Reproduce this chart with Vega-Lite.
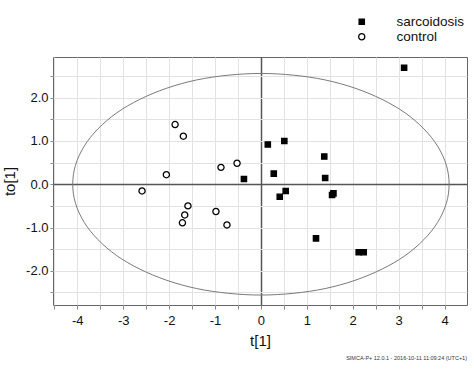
{
  "$schema": "https://vega.github.io/schema/vega-lite/v6.json",
  "width": 414,
  "height": 248,
  "autosize": {"type": "none"},
  "padding": {"left": 53, "top": 57, "right": 7, "bottom": 76},
  "background": "white",
  "title": {"text": "SIMCA-P+ 12.0.1 - 2016-10-11 11:09:24 (UTC+1)", "orient": "bottom", "anchor": "end", "fontSize": 5.5, "fontWeight": "normal", "color": "#333", "font": "Liberation Sans", "offset": 8},
  "datasets": {
    "pts": [
      {"x": 3.12, "y": 2.69, "group": "sarcoidosis"},
      {"x": 0.15, "y": 0.92, "group": "sarcoidosis"},
      {"x": 0.51, "y": 1.0, "group": "sarcoidosis"},
      {"x": 1.38, "y": 0.64, "group": "sarcoidosis"},
      {"x": 0.28, "y": 0.245, "group": "sarcoidosis"},
      {"x": -0.37, "y": 0.12, "group": "sarcoidosis"},
      {"x": 1.4, "y": 0.145, "group": "sarcoidosis"},
      {"x": 0.54, "y": -0.155, "group": "sarcoidosis"},
      {"x": 0.41, "y": -0.29, "group": "sarcoidosis"},
      {"x": 1.58, "y": -0.21, "group": "sarcoidosis"},
      {"x": 1.55, "y": -0.25, "group": "sarcoidosis"},
      {"x": 1.2, "y": -1.25, "group": "sarcoidosis"},
      {"x": 2.13, "y": -1.57, "group": "sarcoidosis"},
      {"x": 2.24, "y": -1.57, "group": "sarcoidosis"},
      {"x": -1.87, "y": 1.38, "group": "control"},
      {"x": -1.69, "y": 1.11, "group": "control"},
      {"x": -0.52, "y": 0.485, "group": "control"},
      {"x": -0.87, "y": 0.39, "group": "control"},
      {"x": -2.06, "y": 0.22, "group": "control"},
      {"x": -2.59, "y": -0.155, "group": "control"},
      {"x": -1.59, "y": -0.5, "group": "control"},
      {"x": -1.66, "y": -0.71, "group": "control"},
      {"x": -1.71, "y": -0.89, "group": "control"},
      {"x": -0.98, "y": -0.63, "group": "control"},
      {"x": -0.74, "y": -0.94, "group": "control"}
    ],
    "ell": [
      {"i": 0, "x": 4.1, "y": 0.0}, {"i": 1, "x": 4.04, "y": 0.44}, {"i": 2, "x": 3.85, "y": 0.88},
      {"i": 3, "x": 3.55, "y": 1.28}, {"i": 4, "x": 3.14, "y": 1.65}, {"i": 5, "x": 2.64, "y": 1.96},
      {"i": 6, "x": 2.05, "y": 2.22}, {"i": 7, "x": 1.4, "y": 2.41}, {"i": 8, "x": 0.71, "y": 2.52},
      {"i": 9, "x": 0.0, "y": 2.56}, {"i": 10, "x": -0.71, "y": 2.52}, {"i": 11, "x": -1.4, "y": 2.41},
      {"i": 12, "x": -2.05, "y": 2.22}, {"i": 13, "x": -2.64, "y": 1.96}, {"i": 14, "x": -3.14, "y": 1.65},
      {"i": 15, "x": -3.55, "y": 1.28}, {"i": 16, "x": -3.85, "y": 0.88}, {"i": 17, "x": -4.04, "y": 0.44},
      {"i": 18, "x": -4.1, "y": 0.0}, {"i": 19, "x": -4.04, "y": -0.44}, {"i": 20, "x": -3.85, "y": -0.88},
      {"i": 21, "x": -3.55, "y": -1.28}, {"i": 22, "x": -3.14, "y": -1.65}, {"i": 23, "x": -2.64, "y": -1.96},
      {"i": 24, "x": -2.05, "y": -2.22}, {"i": 25, "x": -1.4, "y": -2.41}, {"i": 26, "x": -0.71, "y": -2.52},
      {"i": 27, "x": 0.0, "y": -2.56}, {"i": 28, "x": 0.71, "y": -2.52}, {"i": 29, "x": 1.4, "y": -2.41},
      {"i": 30, "x": 2.05, "y": -2.22}, {"i": 31, "x": 2.64, "y": -1.96}, {"i": 32, "x": 3.14, "y": -1.65},
      {"i": 33, "x": 3.55, "y": -1.28}, {"i": 34, "x": 3.85, "y": -0.88}, {"i": 35, "x": 4.04, "y": -0.44}
    ]
  },
  "encoding": {
    "x": {
      "field": "x", "type": "quantitative", "title": "t[1]",
      "scale": {"domain": [-4.53, 4.49], "nice": false, "zero": false},
      "axis": {
        "values": [-4.5, -4, -3.5, -3, -2.5, -2, -1.5, -1, -0.5, 0, 0.5, 1, 1.5, 2, 2.5, 3, 3.5, 4],
        "labelExpr": "datum.value % 1 === 0 ? replace(format(datum.value, 'd'), '\u2212', '-') : ''",
        "grid": true,
        "gridColor": {"condition": {"test": "datum.value === 0", "value": "#555"}, "value": "#e2e2e2"},
        "gridWidth": {"condition": {"test": "datum.value === 0", "value": 1.5}, "value": 1},
        "domain": false, "tickColor": "#888", "tickSize": 4,
        "labelFontSize": 13, "labelColor": "#111", "labelFont": "Liberation Sans", "labelPadding": 5,
        "titleFontSize": 15, "titleFontWeight": "normal", "titleColor": "#111", "titleFont": "Liberation Sans", "titlePadding": 6
      }
    },
    "y": {
      "field": "y", "type": "quantitative", "title": "to[1]",
      "scale": {"domain": [-2.79, 2.94], "nice": false, "zero": false},
      "axis": {
        "values": [-2.5, -2, -1.5, -1, -0.5, 0, 0.5, 1, 1.5, 2, 2.5],
        "labelExpr": "datum.value % 1 === 0 ? replace(format(datum.value, '.1f'), '\u2212', '-') : ''",
        "grid": true,
        "gridColor": {"condition": {"test": "datum.value === 0", "value": "#555"}, "value": "#e2e2e2"},
        "gridWidth": {"condition": {"test": "datum.value === 0", "value": 1.5}, "value": 1},
        "domain": false, "tickColor": "#888", "tickSize": 3,
        "labelFontSize": 13, "labelColor": "#111", "labelFont": "Liberation Sans", "labelPadding": 2,
        "titleFontSize": 15, "titleFontWeight": "normal", "titleColor": "#111", "titleFont": "Liberation Sans", "titlePadding": 8
      }
    }
  },
  "layer": [
    {
      "data": {"name": "ell"},
      "mark": {"type": "line", "color": "#7a7a7a", "strokeWidth": 1, "interpolate": "cardinal-closed"},
      "encoding": {"order": {"field": "i", "type": "quantitative"}}
    },
    {
      "data": {"name": "pts"},
      "mark": {"type": "point", "opacity": 1, "strokeWidth": 1.3, "filled": false},
      "encoding": {
        "shape": {"field": "group", "type": "nominal", "title": null,
          "scale": {"domain": ["sarcoidosis", "control"], "range": ["square", "circle"]},
          "legend": {"symbolStrokeColor": "black", "symbolStrokeWidth": 1.3}},
        "fill": {"field": "group", "type": "nominal", "title": null,
          "scale": {"domain": ["sarcoidosis", "control"], "range": ["black", "white"]}},
        "stroke": {"value": "black"},
        "size": {"field": "group", "type": "nominal", "title": null,
          "scale": {"domain": ["sarcoidosis", "control"], "range": [28, 38]}}
      }
    }
  ],
  "config": {
    "view": {"stroke": "#666", "strokeWidth": 1},
    "legend": {
      "orient": "none", "legendX": 302, "legendY": -42, "padding": 0,
      "labelFontSize": 13.5, "labelFont": "Liberation Sans", "labelColor": "#111", "labelOffset": 28,
      "rowPadding": 0
    }
  }
}
